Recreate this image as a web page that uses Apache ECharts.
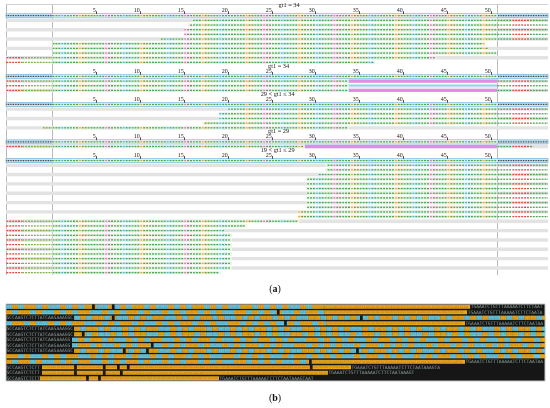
<!DOCTYPE html>
<html><head><meta charset="utf-8">
<script src="https://cdn.jsdelivr.net/npm/echarts@6/dist/echarts.min.js"></script>
<style>html,body{margin:0;padding:0;background:#fff}#c{width:550px;height:408px}</style>
</head><body><div id="c"></div>
<script>
// ================= Panel (a) data (alignment column units) =================
const tickLabels = [5, 10, 15, 20, 25, 30, 35, 40, 45, 50];
const sectionTitles = ['gt1 = 34', 'gt1 = 34', '29 < gt1 \u2264 34', 'gt1 = 29', '19 < gt1 \u2264 29'];
const titleCentres = [27.0, 25.8, 25.7, 25.8, 25.7];
// read starts / ends of each read row (columns); -5.25 = starts in barcode, 56.5 = runs through the flank
const sec1Start = [16, 15.5, 15, 15, 12.3, 0, 0, 0, -5.25, -5.25];
const sec1End   = [56.5, 56.5, 56.5, 56.5, 56.5, 49.3, 49.6, 50.6, 43.8, 36.8];
const sec2Start = [-5.25, -5.25, -5.25];
const sec2End   = [56.5, 56.5, 56.5];
const sec2Del   = [33.8, 33.8, 33.8];
const sec3Start = [20, 19, 19, 17.1, -1.1];
const sec3End   = [56.5, 56.5, 56.5, 56.5, 33.8];
const sec4Start = [-5.25];
const sec4End   = [54.8];
const sec4Del   = [28.8];
const sec5Start = [31.1, 31.1, 30.3, 29, 29, 29, 29, 29, 29, 29, 28, 28,
                   -5.25, -5.25, -5.25, -5.25, -5.25, -5.25, -5.25, -5.25, -5.25, -5.25, -5.25, -5.25];
const sec5End   = [56.5, 56.5, 56.5, 56.5, 56.5, 56.5, 56.5, 56.5, 56.5, 56.5, 56.5, 56.5,
                   28.2, 22.2, 19.7, 20.5, 20.5, 20.5, 20.5, 20.5, 20.5, 20.5, 20.5, 19.2];
const refCodons = 'gcgoggpgcgoggcgpgogcggogpgcgogcgpgogcggogcgpgogcgog';

// ================= Panel (b) data (nucleotide units) =================
const bPrefixEnd = [0, 0, 22.7, 0, 22.7, 22.7, 22, 22, 22.7, 0, 0, 12, 12, 11.3];
const bAltEnd    = [105.7, 106.3, 179.7, 106.7, 179.7, 179.7, 179.7, 179.7, 179.7, 179.7, 101, 12, 12, 11.3];
const bOrangeEnd = [154.7, 153.7, 179.7, 153, 179.7, 179.7, 179.7, 179.7, 179.7, 179.7, 153, 115, 107.3, 71];
const bTextEnd   = [179.7, 179.7, 0, 179.7, 0, 0, 0, 0, 0, 0, 179.7, 145.3, 137, 103.3];
const bGaps = [[28.7, 35.3], [90.3], [35.3, 118], [92.7], [], [25.3], [], [48.3], [39, 46.7, 116.7], [],
               [101], [22.7, 32.3, 37, 40.3, 101.3], [22.7, 32.3, 38], [26.7, 30.7]];
const bBlockColours = 'BOBOOBOBBOBOBOOBBOBOBOOBOBBOBOBOOBOBOBBOOBOBOBOBBOBOOBOBOBOBBOBOOBOBOBBOBOBOOBOBOBOBBOBOBOOBOB';
const bPhase = [0, 1, 0, 2, 1, 3, 0, 2, 1, 3, 1, 0, 0, 0];
const bPrefixText = 'GCCAAGTCTCTTATCAAGAAAGGCATAAGTC';
const bSuffixText = 'TGAAATCTGTTTAAAAATCTTCTAATAAAGTAATTGAAATCTG';
const bRepeatText = 'GTGCAGTGCAGTGTGCAGCAGTGTGCAGTGCAGCAGTGTGCAG';

// ================= constants =================
const XMIN = -5.25, XMAX = 56.5, SEQ_END = 50.7;
const RED_END = -3.45, SUF_RED = [52.4, 54.4];
const SERIF = 'Liberation Serif';

const sections = [
  {start: sec1Start, end: sec1End, del: null},
  {start: sec2Start, end: sec2End, del: sec2Del},
  {start: sec3Start, end: sec3End, del: null},
  {start: sec4Start, end: sec4End, del: sec4Del},
  {start: sec5Start, end: sec5End, del: null}
];
const headerData = [], rowData = [];
let off = 0;
sections.forEach((s, si) => {
  headerData.push([off, si]);
  s.start.forEach((st, i) => {
    rowData.push([off + 3 + i, st, s.end[i], s.del ? s.del[i] : -99, i % 2 === 0 ? 1 : 0]);
  });
  off += 3 + s.start.length;
});
const TOTAL_SLOTS = off;

const pastel = {g: '#e6f6e6', o: '#fff0d4', p: '#fbe4f3', c: '#ddf3fa'};
const markCol = {g: '#52ad58', o: '#f0a43a', p: '#e07ac6', c: '#4cb8da'};
const GREEN = '#4aa352';

function R(x, y, w, h, fill) { return {type: 'rect', shape: {x, y, width: w, height: h}, style: {fill}}; }
function X(api, p) { return api.coord([p, 0])[0]; }

function drawCells(ch, api, a, b, yc, bh) {
  if (b <= a) return;
  for (let c = Math.floor(a); c < b; c++) {
    const ca = Math.max(a, c), cb = Math.min(b, c + 1);
    if (cb - ca < 0.02) continue;
    const cls = refCodons.charAt(((c % refCodons.length) + refCodons.length) % refCodons.length);
    const x1 = X(api, ca), x2 = X(api, cb);
    ch.push(R(x1, yc - bh / 2, x2 - x1, bh, pastel[cls]));
    for (let k = 0; k < 3; k++) {
      const la = c + k / 3 + 0.05, lb = c + (k + 1) / 3 - 0.06;
      if (la < ca - 0.01 || lb > cb + 0.01) continue;
      const xa = X(api, la), xb = X(api, lb);
      ch.push(R(xa, yc - 0.65, xb - xa, 1.3, k === 0 ? markCol[cls] : GREEN));
    }
  }
}
function drawDashes(ch, api, a, b, yc, colour) {
  for (let p = a; p < b - 0.05; p += 1 / 3) {
    const xa = X(api, p + 0.04), xb = X(api, Math.min(p + 0.26, b));
    if (xb > xa) ch.push(R(xa, yc - 0.65, xb - xa, 1.3, colour));
  }
}
function drawDots(ch, api, a, b, yc) {
  for (let p = a; p < b - 0.05; p += 0.19) {
    ch.push(R(X(api, p), yc - 0.6, 0.9, 1.2, '#333'));
  }
}

function renderFrame(params, api) {
  const ch = [];
  const y0 = api.coord([0, 0])[1], y1 = api.coord([0, TOTAL_SLOTS])[1];
  [XMIN, 0, SEQ_END].forEach(p => {
    const x = Math.round(X(api, p)) + 0.5;
    ch.push({type: 'line', shape: {x1: x, y1: y0, x2: x, y2: y1}, style: {stroke: '#a8a8a8', lineWidth: 0.8}});
  });
  ch.push({type: 'line', shape: {x1: X(api, XMIN), y1: y0 + 0.5, x2: X(api, XMAX), y2: y0 + 0.5}, style: {stroke: '#c8c8c8', lineWidth: 0.8}});
  return {type: 'group', children: ch};
}

function renderHeader(params, api) {
  const slot = api.value(0), si = api.value(1);
  const ch = [];
  const yT = api.coord([0, slot + 0.25])[1];
  const yN = api.coord([0, slot + 1.65])[1];
  const yR = api.coord([0, slot + 2.5])[1];
  const bh = api.size([0, 1])[1] * 0.72;
  ch.push({type: 'text', style: {text: sectionTitles[si], x: X(api, titleCentres[si]), y: yT, fill: '#222',
    font: '6.3px "' + SERIF + '"', align: 'center', verticalAlign: 'middle', textAlign: 'center', textVerticalAlign: 'middle'}});
  ch.push({type: 'rect', shape: {x: X(api, XMIN), y: yR - bh / 2 - 0.3, width: X(api, XMAX) - X(api, XMIN), height: bh + 0.6},
    style: {fill: '#cde8f6', stroke: '#78b6da', lineWidth: 0.8}});
  drawCells(ch, api, 0, SEQ_END, yR, bh);
  drawDots(ch, api, XMIN + 0.05, 0, yR);
  drawDots(ch, api, SEQ_END + 0.1, XMAX, yR);
  tickLabels.forEach(t => {
    const x = Math.round(X(api, t)) + 0.5;
    ch.push({type: 'line', shape: {x1: x, y1: yN - 0.5, x2: x, y2: yR - bh / 2}, style: {stroke: '#222', lineWidth: 0.8}});
    ch.push({type: 'text', style: {text: String(t), x: x - 0.8, y: yN - 1.0, fill: '#222',
      font: '6px "' + SERIF + '"', align: 'right', verticalAlign: 'middle', textAlign: 'right', textVerticalAlign: 'middle'}});
  });
  return {type: 'group', children: ch};
}

function renderRow(params, api) {
  const slot = api.value(0), st = api.value(1), en = api.value(2), del = api.value(3), stripe = api.value(4);
  const yc = api.coord([0, slot + 0.5])[1];
  const bh = api.size([0, 1])[1] * 0.72;
  const ch = [];
  if (stripe) ch.push(R(X(api, XMIN), yc - bh / 2, X(api, XMAX) - X(api, XMIN), bh, '#e3e3e3'));
  if (st < 0) {
    let a = st;
    const b = Math.min(en, 0);
    if (st <= XMIN + 0.01) {
      drawDashes(ch, api, XMIN, RED_END, yc, '#e8453c');
      a = RED_END;
    }
    drawDashes(ch, api, a, b, yc, '#7fae45');
  }
  const hasDel = del > -50;
  const mEnd = Math.min(en, hasDel ? del : SEQ_END);
  drawCells(ch, api, Math.max(st, 0), mEnd, yc, bh);
  if (hasDel) {
    const xa = X(api, del), xb = X(api, SEQ_END);
    if (stripe) ch.push(R(xa, yc - bh / 2, xb - xa, bh, '#e58be5'));
    else { ch.push(R(xa, yc - bh / 2, xb - xa, bh, '#b3eef2')); ch.push(R(xa, yc - 0.5, xb - xa, 1, '#e8a0e8')); }
  }
  if (en > SEQ_END) {
    const a = Math.max(st, SEQ_END);
    drawDashes(ch, api, a, Math.min(en, SUF_RED[0]), yc, GREEN);
    drawDashes(ch, api, Math.max(a, SUF_RED[0]), Math.min(en, SUF_RED[1]), yc, '#e8453c');
    drawDashes(ch, api, Math.max(a, SUF_RED[1]), en, yc, GREEN);
  }
  return {type: 'group', children: ch};
}

// ================= Panel (b) renderers =================
const ORANGE = '#e8a61e', BLUE = '#66c6df', DARK = '#161616';
function renderBox(params, api) {
  const p0 = api.coord([0, 0]), p1 = api.coord([179.67, 14]);
  return {type: 'rect', shape: {x: p0[0], y: p0[1], width: p1[0] - p0[0], height: p1[1] - p0[1]},
    style: {fill: DARK, stroke: '#c4c4c4', lineWidth: 1}};
}
function bText(ch, api, a, b, yc, str, col, size, cw) {
  const xa = api.coord([a, 0])[0] + 0.6, xb = api.coord([b, 0])[0];
  const n = Math.floor((xb - xa) / cw);
  if (n <= 0) return;
  ch.push({type: 'text', style: {text: str.repeat(6).slice(0, n), x: xa, y: yc + 0.2, fill: col,
    font: size + 'px "DejaVu Sans Mono"', align: 'left', verticalAlign: 'middle', textAlign: 'left', textVerticalAlign: 'middle'}});
}
function renderBRow(params, api) {
  const r = api.value(0);
  const yc = api.coord([0, r + 0.5])[1];
  const bh = api.size([0, 1])[1] - 1.3;
  const y0 = yc - bh / 2;
  const ch = [];
  const pre = bPrefixEnd[r], altE = bAltEnd[r], ornE = bOrangeEnd[r], txtE = bTextEnd[r];
  const cx = v => api.coord([v, 0])[0];
  if (pre > 0) bText(ch, api, 0, pre, yc, bPrefixText, '#8d9c9c', 4.6, 2.77);
  let i = 0;
  for (let p = pre; p < altE - 0.01; p += 2, i++) {
    const q = Math.min(p + 2, altE);
    const c = bBlockColours.charAt((i + bPhase[r]) % bBlockColours.length) === 'B' ? BLUE : ORANGE;
    ch.push(R(cx(p), y0, cx(q) - cx(p), bh, c));
  }
  if (ornE > altE) ch.push(R(cx(altE), y0, cx(ornE) - cx(altE), bh, ORANGE));
  if (ornE > pre) bText(ch, api, pre, ornE, yc, bRepeatText, 'rgba(70,50,20,0.38)', 3.4, 2.05);
  bGaps[r].forEach(g => { ch.push(R(cx(g), y0 - 0.3, cx(g + 0.9) - cx(g), bh + 0.6, DARK)); });
  if (txtE > ornE) bText(ch, api, ornE, txtE, yc, bSuffixText, '#8aa096', 4.6, 2.77);
  return {type: 'group', children: ch};
}
const bRowData = bPrefixEnd.map((v, i) => [i]);

const chart = echarts.init(document.getElementById('c'), null, {renderer: 'canvas'});
chart.setOption({
  animation: false,
  backgroundColor: '#ffffff',
  title: [
    {text: '({b|a})', left: 'center', top: 279, textStyle: {fontFamily: SERIF, fontSize: 10, fontWeight: 'normal', color: '#111',
      rich: {b: {fontFamily: SERIF, fontSize: 10, fontWeight: 'bold', color: '#111'}}}},
    {text: '({b|b})', left: 'center', top: 388, textStyle: {fontFamily: SERIF, fontSize: 10, fontWeight: 'normal', color: '#111',
      rich: {b: {fontFamily: SERIF, fontSize: 10, fontWeight: 'bold', color: '#111'}}}}
  ],
  grid: [
    {left: 6, width: 542, top: 4, height: 271},
    {left: 6, width: 539, top: 304, height: 77}
  ],
  xAxis: [
    {type: 'value', gridIndex: 0, min: XMIN, max: XMAX, show: false},
    {type: 'value', gridIndex: 1, min: 0, max: 179.67, show: false}
  ],
  yAxis: [
    {type: 'value', gridIndex: 0, min: 0, max: TOTAL_SLOTS, inverse: true, show: false},
    {type: 'value', gridIndex: 1, min: 0, max: 14, inverse: true, show: false}
  ],
  series: [
    {type: 'custom', xAxisIndex: 0, yAxisIndex: 0, data: rowData, renderItem: renderRow, clip: false, silent: true},
    {type: 'custom', xAxisIndex: 0, yAxisIndex: 0, data: headerData, renderItem: renderHeader, clip: false, silent: true},
    {type: 'custom', xAxisIndex: 0, yAxisIndex: 0, data: [[0]], renderItem: renderFrame, clip: false, silent: true, z: 1},
    {type: 'custom', xAxisIndex: 1, yAxisIndex: 1, data: [[0]], renderItem: renderBox, clip: false, silent: true, z: 1},
    {type: 'custom', xAxisIndex: 1, yAxisIndex: 1, data: bRowData, renderItem: renderBRow, clip: false, silent: true, z: 3}
  ]
});
</script></body></html>
